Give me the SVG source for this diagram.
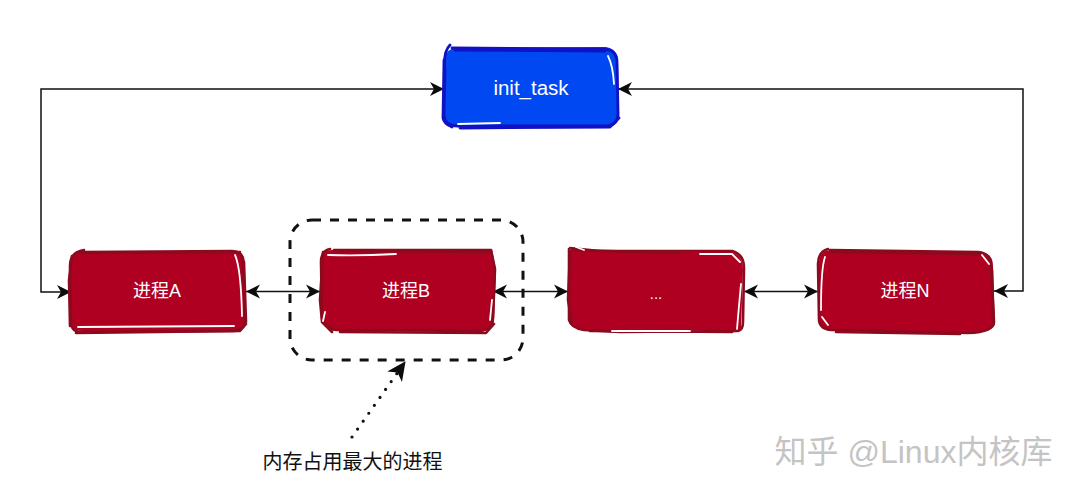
<svg xmlns="http://www.w3.org/2000/svg" width="1080" height="497" viewBox="0 0 1080 497">
<style>
.t{font-family:"Liberation Sans","Noto Sans CJK SC",sans-serif;text-anchor:middle;fill:#fff;font-size:18px}
.red{fill:#b00022}
.blue{fill:#0048f2}
.rs{fill:none;stroke:#8c0a1e;stroke-width:2.600;stroke-linejoin:round;stroke-linecap:round}
.bs{fill:none;stroke:#1212c4;stroke-width:2.800;stroke-linejoin:round;stroke-linecap:round}
.w{fill:none;stroke:#fff;stroke-width:1.800;stroke-linecap:round}
.c{fill:none;stroke:#111;stroke-width:1.500}
</style>
<defs>
<marker id="a" markerUnits="userSpaceOnUse" markerWidth="16" markerHeight="16" refX="15" refY="8" orient="auto-start-reverse"><path d="M1 1 L15 8 L1 15 L5 8Z" fill="#0c0c0c"/></marker>
<marker id="b" markerUnits="userSpaceOnUse" markerWidth="22" markerHeight="22" refX="19" refY="11" orient="auto"><path d="M1 2 L20 11 L1 20 L6 11Z" fill="#0c0c0c"/></marker>
</defs>
<rect width="1080" height="497" fill="#fff"/>
<g id="connectors">
<path class="c" d="M444 89H41V292H71" marker-start="url(#a)" marker-end="url(#a)"/>
<path class="c" d="M618 89H1023V291H994" marker-start="url(#a)" marker-end="url(#a)"/>
<path class="c" d="M246 291.500H320" marker-start="url(#a)" marker-end="url(#a)"/>
<path class="c" d="M493 291.500H568" marker-start="url(#a)" marker-end="url(#a)"/>
<path class="c" d="M744 291.500H818" marker-start="url(#a)" marker-end="url(#a)"/>
<path d="M352 437L405 362" fill="none" stroke="#111" stroke-width="3.200" stroke-linecap="round" stroke-dasharray="0 9.700" marker-end="url(#b)"/>
</g>
<g id="highlight">
<rect x="290" y="220" width="233" height="140" rx="22" fill="none" stroke="#111" stroke-width="3" stroke-dasharray="9 9"/>
</g>
<g id="init_task">
<path class="blue" d="M445 58Q446 49 456 48L606 47Q618 49 618 62L619 115Q618 126 606 126L456 127Q444 125 444 114Z"/>
<path class="bs" d="M450 45Q443 52 445 70L444 116Q445 126 458 126L608 126Q619 124 618 112L617 62Q617 50 604 49L452 48"/>
<path class="bs" d="M444 60L443 118Q444 124 452 127M455 50L605 51M460 128L610 127L619 118"/>
<path class="w" d="M608 56Q613 66 614 84M458 124L500 123"/>
<text class="t" x="531" y="95" style="font-size:20.500px">init_task</text>
</g>
<g id="process-a">
<path class="red" d="M70 262Q71 251 82 251L234 251Q245 251 245 264L245 322Q245 331 234 331L82 331Q70 331 70 320Z"/>
<path class="rs" d="M84 250Q70 252 70 266L71 322Q71 332 82 332L234 331Q245 330 245 320L243 262Q243 251 232 251L82 252"/>
<path class="rs" d="M72 256L69 280L70 326M80 253L240 252M76 333L240 331L246 324M244 262L246 322"/>
<path class="w" d="M235 255Q241 268 242 316M78 327L234 326"/>
<text class="t" x="157" y="297">进程A</text>
</g>
<g id="process-b">
<path class="red" d="M321 260Q322 250 332 250L492 249L496 270L494 322Q490 331 480 331L334 331Q322 328 321 318Z"/>
<path class="rs" d="M330 249Q321 251 321 262L322 318Q324 328 336 330L480 331Q492 330 493 318L495 269L491 250L334 250"/>
<path class="rs" d="M323 252L320 300L322 322L332 332M340 251L490 252M340 332L486 333L494 324"/>
<path class="w" d="M328 255Q360 256 396 254M323 321L325 312M490 320L492 300"/>
<text class="t" x="406" y="297">进程B</text>
</g>
<g id="process-dots">
<path class="red" d="M569 250L730 251Q743 254 743 270L741 330L580 330Q570 326 569 318Z"/>
<path class="rs" d="M569 249L569 320Q571 328 584 330L620 332L738 331Q743 330 743 322L744 268Q744 254 732 251L600 251L570 248"/>
<path class="rs" d="M570 252L568 300L572 324M572 250L680 253M590 331L732 332"/>
<path class="w" d="M576 247L584 250M700 254L732 254L740 262M741 284Q739 305 737 329M612 331L690 331"/>
<text class="t" x="656" y="299" style="font-size:15px">...</text>
</g>
<g id="process-n">
<path class="red" d="M819 262Q820 250 832 250L982 252Q993 254 993 266L995 324Q990 333 970 333L832 330Q819 330 819 318Z"/>
<path class="rs" d="M828 249Q818 252 818 264L819 320Q820 330 834 330L968 333Q994 332 994 322L991 264Q990 253 978 252L830 250"/>
<path class="rs" d="M832 252L980 254M836 332L960 334M992 270L993 322"/>
<path class="w" d="M825 257Q821 268 821 310M822 317L828 325M982 255L989 264"/>
<text class="t" x="905" y="297">进程N</text>
</g>
<text x="352.500" y="469" style="font-family:'Liberation Sans','Noto Sans CJK SC',sans-serif;font-size:20px;text-anchor:middle;fill:#111">内存占用最大的进程</text>
<text x="913.500" y="463" style="font-family:'Liberation Sans','Noto Sans CJK SC',sans-serif;font-size:32px;text-anchor:middle;fill:#c4c4c4">知乎 @Linux内核库</text>
</svg>
